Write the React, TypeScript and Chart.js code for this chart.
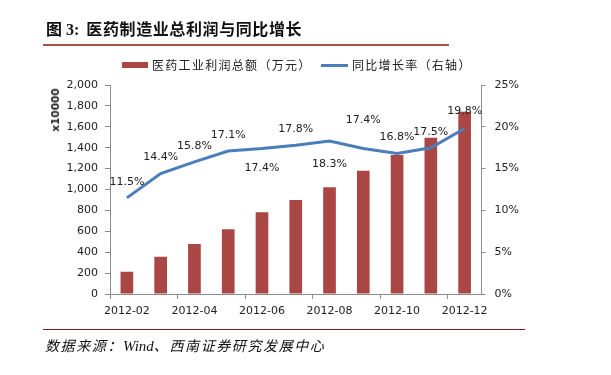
import React, { useEffect, useRef } from "react";
import { Chart, registerables } from "chart.js";

Chart.register(...registerables);

const categories = [
  "2012-02", "2012-03", "2012-04", "2012-05", "2012-06", "2012-07",
  "2012-08", "2012-09", "2012-10", "2012-11", "2012-12",
];
const profitValues = [213, 357, 478, 619, 782, 900, 1021, 1180, 1330, 1496, 1745];
const growthRates = [11.5, 14.4, 15.8, 17.1, 17.4, 17.8, 18.3, 17.4, 16.8, 17.5, 19.8];
const growthLabels = ["11.5%", "14.4%", "15.8%", "17.1%", "17.4%", "17.8%", "18.3%", "17.4%", "16.8%", "17.5%", "19.8%"];
const leftTicks = { min: 0, max: 2000, step: 200 };
const rightTicks = { min: 0, max: 25, step: 5 };

const titlePrefix = "图 3:";
const titleText = "医药制造业总利润与同比增长";
const barLegend = "医药工业利润总额（万元）";
const lineLegend = "同比增长率（右轴）";
const footerPrefix = "数据来源：";
const footerSource = "Wind";
const footerRest = "、西南证券研究发展中心";
const unitText = "x10000";

// label vertical offsets (px) relative to each line point
const labelOffsets = [-16, -16, -16, -16, 20, -16, 23, -28, -16, -16, -17];

const BAR_COLOR = "#AA4643";
const LINE_COLOR = "#4A7EBB";
const AXIS_COLOR = "#8c8c8c";
const TEXT_COLOR = "#222";
const FONT = "'DejaVu Sans', sans-serif";

const labelPlugin = {
  id: "pointLabels",
  afterDatasetsDraw(chart: any) {
    const meta = chart.getDatasetMeta(1);
    const ctx = chart.ctx;
    ctx.save();
    ctx.font = `11px ${FONT}`;
    ctx.fillStyle = TEXT_COLOR;
    ctx.textAlign = "center";
    ctx.textBaseline = "middle";
    meta.data.forEach((pt: any, i: number) => {
      ctx.fillText(growthLabels[i], pt.x, pt.y + labelOffsets[i]);
    });
    ctx.restore();
  },
};

export default function App() {
  const canvasRef = useRef<HTMLCanvasElement | null>(null);

  useEffect(() => {
    const canvas = canvasRef.current;
    if (!canvas) return;
    const chart = new Chart(canvas, {
      type: "bar",
      data: {
        labels: categories,
        datasets: [
          {
            type: "bar",
            label: barLegend,
            data: profitValues,
            backgroundColor: BAR_COLOR,
            borderWidth: 0,
            yAxisID: "y",
            categoryPercentage: 1,
            barPercentage: 0.375,
            order: 2,
          },
          {
            type: "line",
            label: lineLegend,
            data: growthRates,
            borderColor: LINE_COLOR,
            borderWidth: 3,
            pointRadius: 0,
            tension: 0,
            fill: false,
            yAxisID: "y1",
            order: 1,
          } as any,
        ],
      },
      options: {
        responsive: false,
        animation: false,
        devicePixelRatio: 1,
        layout: { padding: { left: 50, right: 69.5, top: 85, bottom: 51 } },
        plugins: {
          legend: { display: false },
          tooltip: { enabled: false },
          title: { display: false },
        },
        scales: {
          x: {
            type: "category",
            offset: true,
            grid: {
              offset: true,
              drawOnChartArea: false,
              tickLength: 5,
              color: (c: any) => (c.index % 2 === 0 ? AXIS_COLOR : "rgba(0,0,0,0)"),
            },
            border: { color: AXIS_COLOR },
            ticks: {
              autoSkip: false,
              maxRotation: 0,
              minRotation: 0,
              padding: 6,
              color: TEXT_COLOR,
              font: { family: FONT, size: 11 },
              callback: (_v: any, i: number) => (i % 2 === 0 ? categories[i] : ""),
            },
            afterFit: (s: any) => {
              s.height = 30;
            },
          },
          y: {
            position: "left",
            min: leftTicks.min,
            max: leftTicks.max,
            grid: { drawOnChartArea: false, tickLength: 5, color: AXIS_COLOR },
            border: { color: AXIS_COLOR },
            ticks: {
              stepSize: leftTicks.step,
              padding: 7,
              color: TEXT_COLOR,
              font: { family: FONT, size: 11 },
              callback: (v: any) => Number(v).toLocaleString("en-US"),
            },
            afterFit: (s: any) => {
              s.width = 60;
            },
          },
          y1: {
            position: "right",
            min: rightTicks.min,
            max: rightTicks.max,
            grid: { drawOnChartArea: false, tickLength: 4, color: AXIS_COLOR },
            border: { color: AXIS_COLOR },
            ticks: {
              stepSize: rightTicks.step,
              padding: 9,
              color: TEXT_COLOR,
              font: { family: FONT, size: 11 },
              callback: (v: any) => `${v}%`,
            },
            afterFit: (s: any) => {
              s.width = 60;
            },
          },
        },
      } as any,
      plugins: [labelPlugin],
    });
    return () => chart.destroy();
  }, []);

  const cjk = "'Noto Sans CJK SC', sans-serif";

  return (
    <div
      style={{
        position: "fixed",
        left: 0,
        top: 0,
        width: 611,
        height: 375,
        background: "#fff",
        overflow: "hidden",
      }}
    >
      <canvas
        ref={canvasRef}
        width={611}
        height={375}
        style={{ position: "absolute", left: 0, top: 0, width: 611, height: 375 }}
      />
      <div
        style={{
          position: "absolute",
          left: 46,
          top: 19,
          fontFamily: `'Liberation Serif', ${cjk}`,
          fontWeight: "bold",
          fontSize: 16,
          lineHeight: "22px",
          whiteSpace: "pre",
          color: "#111",
        }}
      >
        <span>{titlePrefix}</span>
        <span style={{ marginLeft: 7, letterSpacing: "0.6px" }}>{titleText}</span>
      </div>
      <div
        style={{
          position: "absolute",
          left: 43,
          top: 43.5,
          width: 406,
          height: 2,
          background: "#A9504F",
        }}
      />
      {/* legend */}
      <div
        style={{
          position: "absolute",
          left: 122,
          top: 62,
          width: 26,
          height: 6,
          background: BAR_COLOR,
        }}
      />
      <div
        style={{
          position: "absolute",
          left: 152,
          top: 56,
          fontFamily: cjk,
          fontSize: 12,
          lineHeight: "18px",
          letterSpacing: "1.3px",
          whiteSpace: "pre",
          color: TEXT_COLOR,
        }}
      >
        {barLegend}
      </div>
      <div
        style={{
          position: "absolute",
          left: 321,
          top: 63.5,
          width: 27,
          height: 3,
          background: LINE_COLOR,
        }}
      />
      <div
        style={{
          position: "absolute",
          left: 352,
          top: 56,
          fontFamily: cjk,
          fontSize: 12,
          lineHeight: "18px",
          letterSpacing: "1.3px",
          whiteSpace: "pre",
          color: TEXT_COLOR,
        }}
      >
        {lineLegend}
      </div>
      {/* unit label */}
      <div
        style={{
          position: "absolute",
          left: 54.5,
          top: 110,
          transform: "translate(-50%, -50%) rotate(-90deg)",
          fontFamily: FONT,
          fontWeight: "bold",
          fontSize: 10.5,
          lineHeight: "12px",
          whiteSpace: "pre",
          color: TEXT_COLOR,
        }}
      >
        {unitText}
      </div>
      {/* footer */}
      <div
        style={{
          position: "absolute",
          left: 43,
          top: 328.5,
          width: 482,
          height: 1.2,
          background: "#8E1F22",
        }}
      />
      <div
        style={{
          position: "absolute",
          left: 45,
          top: 336,
          fontFamily: `'Liberation Serif', ${cjk}`,
          fontStyle: "italic",
          fontSize: 14,
          lineHeight: "20px",
          whiteSpace: "pre",
          color: "#111",
        }}
      >
        <span style={{ letterSpacing: "1.6px" }}>{footerPrefix}</span>
        <span style={{ fontSize: 15 }}>{footerSource}</span>
        <span style={{ letterSpacing: "1.6px" }}>{footerRest}</span>
      </div>
    </div>
  );
}
